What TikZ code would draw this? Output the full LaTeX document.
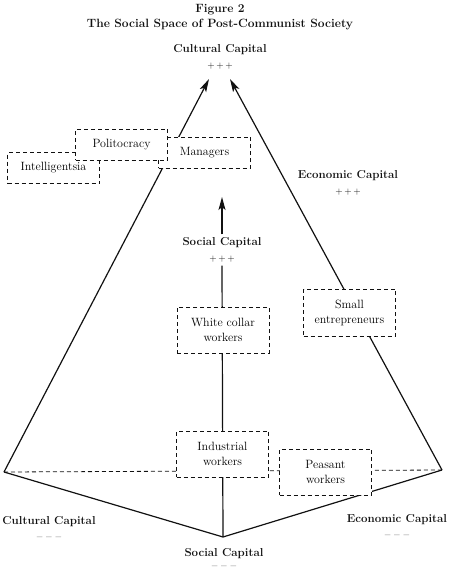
\documentclass[tikz,border=0pt]{standalone}
\usepackage{tikz}
\usetikzlibrary{arrows.meta}
\pgfdeclarelayer{background}
\pgfsetlayers{background,main}
\definecolor{figink}{HTML}{111111}
\newcommand{\plusrow}{{\fontsize{9.5}{9}\selectfont\mdseries +\,+\,+}}
\newcommand{\minusrow}{{\mdseries\textendash\ \textendash\ \textendash}}
\tikzset{
  groupbox/.style={draw=figink, fill=white, dash pattern=on 4pt off 3pt,
    line width=0.8pt, minimum width=92pt, minimum height=31pt,
    align=center, inner sep=2pt, font=\fontsize{12}{15}\selectfont},
  capital/.style={align=center, text=figink, inner sep=3pt,
    font=\fontsize{11.5}{16}\selectfont\bfseries},
  axisline/.style={figink, line width=1.2pt},
  tipline/.style={axisline, -{Stealth[length=13pt, width=7pt, inset=3pt]}},
}

\begin{document}
\begin{tikzpicture}[x=1pt, y=-1pt]
\useasboundingbox (0,0) rectangle (450,574);
% Corners of the social space: three capitals, high at the top, low below.
\coordinate (culB) at (4,472);
\coordinate (ecoB) at (442,470);
\coordinate (socB) at (223,537);
\coordinate (culT) at (209,79);
\coordinate (ecoT) at (230,79);
\coordinate (socT) at (222,197);

\node[capital, font=\fontsize{12}{15}\selectfont\bfseries] (title) at (220,17)
  {Figure 2\\The Social Space of Post-Communist Society};
\node[capital] (culhigh) at (220,57) {Cultural Capital\\\plusrow};
\node[capital] (ecohigh) at (348,183) {Economic Capital\\\plusrow};
\node[capital] (soccap) at (222,250) {Social Capital\\\plusrow};
\node[capital] (cullow) at (49,528) {Cultural Capital\\\minusrow};
\node[capital] (ecolow) at (397,526) {Economic Capital\\\minusrow};
\node[capital, inner sep=0.5pt, font=\fontsize{11.5}{13}\selectfont\bfseries]
  (soclow) at (224,559) {Social Capital\\\minusrow};

% Groups; the politocracy box lies on top of its two neighbours.
\node[groupbox] (managers) at (204.5,152.5) {Managers};
\node[groupbox] (intel) at (53.5,168) {Intelligentsia};
\node[groupbox] (polit) at (121.5,144.5) {Politocracy};
\node[groupbox, minimum height=46pt] (whitecollar) at (223,330)
  {White collar\\workers};
\node[groupbox, minimum height=47pt] (smallent) at (349.5,312.5)
  {Small\\entrepreneurs};
\node[groupbox, minimum height=46pt] (industrial) at (222.5,454)
  {Industrial\\workers};
\node[groupbox, minimum height=46pt] (peasant) at (325.5,472)
  {Peasant\\workers};

\begin{pgfonlayer}{background}
\draw[figink, line width=0.8pt, dash pattern=on 4pt off 3pt] (culB) -- (ecoB);
\draw[axisline] (culB) -- (socB) -- (ecoB);
\draw[tipline] (culB) -- (culT);
\draw[tipline] (ecoB) -- (ecoT);
\draw[axisline] (socB) -- (soccap.south);
\draw[tipline] (soccap.north) -- (socT);
\end{pgfonlayer}
\end{tikzpicture}
\end{document}
